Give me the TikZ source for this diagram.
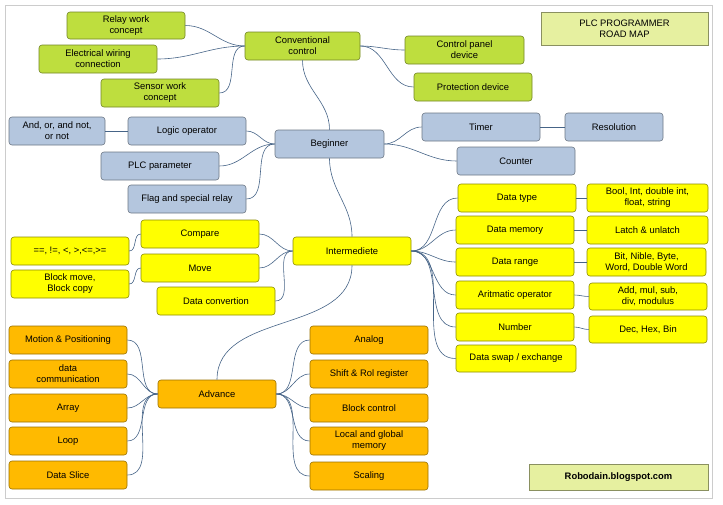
\documentclass[tikz,border=0pt]{standalone}
\usepackage{fontspec}
\setmainfont{Liberation Sans}
\definecolor{cgreen}{RGB}{190,222,62}
\definecolor{cblue}{RGB}{180,198,222}
\definecolor{cyel}{RGB}{255,255,0}
\definecolor{corg}{RGB}{255,186,0}
\definecolor{ctitle}{RGB}{230,240,160}
\definecolor{clink}{RGB}{70,100,135}
\newcommand\bx[7]{\node[box,#6,minimum width={(#4-#2)*1pt},minimum height={(#5-#3)*1pt}] (#1) at ({(#2+#4)/2},{(#3+#5)/2}) {#7};}
\begin{document}
\begin{tikzpicture}[x=1pt,y=-1pt,
  box/.style={rounded corners=3pt,draw,line width=0.6pt,inner sep=1pt,align=center,font=\fontsize{9.4}{11}\selectfont},
  gr/.style={fill=cgreen,draw=cgreen!60!black},
  bl/.style={fill=cblue,draw=cblue!60!black},
  ye/.style={fill=cyel,draw=cyel!55!black},
  or/.style={fill=corg,draw=corg!60!black},
  ti/.style={fill=ctitle,draw=ctitle!60!black,rounded corners=0pt},
  link/.style={draw=clink,line width=0.6pt}]
\useasboundingbox (0,0) rectangle (723,504);
\draw[black!20,line width=0.8pt] (5,5) rectangle (712,498);
\bx{title}{541}{12}{708}{45}{ti}{PLC PROGRAMMER\\ROAD MAP}
\bx{relay}{67}{12}{185}{39}{gr}{Relay work\\concept}
\bx{conv}{245}{32}{360}{60}{gr}{Conventional\\control}
\bx{elec}{39}{45}{157}{73}{gr}{Electrical wiring\\connection}
\bx{sens}{101}{79}{219}{107}{gr}{Sensor work\\concept}
\bx{cpd}{405}{36}{524}{64}{gr}{Control panel\\device}
\bx{prot}{414}{73}{532}{101}{gr}{Protection device}
\bx{andor}{9}{117}{105}{145}{bl}{And, or, and not,\\or not}
\bx{logic}{128}{117}{246}{145}{bl}{Logic operator}
\bx{plcp}{101}{152}{219}{180}{bl}{PLC parameter}
\bx{flag}{128}{185}{246}{213}{bl}{Flag and special relay}
\bx{beg}{275}{130}{384}{158}{bl}{Beginner}
\bx{timer}{422}{113}{540}{141}{bl}{Timer}
\bx{resol}{565}{113}{663}{141}{bl}{Resolution}
\bx{count}{457}{147}{575}{175}{bl}{Counter}
\bx{dtype}{458}{184}{576}{212}{ye}{Data type}
\bx{bool}{587}{184}{708}{212}{ye}{Bool, Int, double int,\\float, string}
\bx{dmem}{456}{216}{574}{244}{ye}{Data memory}
\bx{latch}{587}{216}{708}{244}{ye}{Latch \& unlatch}
\bx{drange}{456}{248}{574}{276}{ye}{Data range}
\bx{bit}{587}{248}{706}{276}{ye}{Bit, Nible, Byte,\\Word, Double Word}
\bx{arit}{456}{281}{574}{309}{ye}{Aritmatic operator}
\bx{add}{589}{283}{707}{310}{ye}{Add, mul, sub,\\div, modulus}
\bx{num}{456}{313}{574}{341}{ye}{Number}
\bx{dec}{589}{316}{707}{343}{ye}{Dec, Hex, Bin}
\bx{swap}{456}{345}{576}{372}{ye}{Data swap / exchange}
\bx{inter}{293}{237}{411}{265}{ye}{Intermediete}
\bx{comp}{141}{220}{259}{248}{ye}{Compare}
\bx{eq}{11}{237}{129}{265}{ye}{==, !=, <, >,<=,>=}
\bx{move}{141}{254}{259}{282}{ye}{Move}
\bx{bmove}{11}{270}{129}{298}{ye}{Block move,\\Block copy}
\bx{dconv}{157}{287}{275}{315}{ye}{Data convertion}
\bx{analog}{310}{326}{428}{354}{or}{Analog}
\bx{shift}{310}{360}{428}{388}{or}{Shift \& Rol register}
\bx{bctl}{310}{394}{428}{422}{or}{Block control}
\bx{lmem}{310}{427}{428}{455}{or}{Local and global\\memory}
\bx{scal}{310}{462}{428}{490}{or}{Scaling}
\bx{adv}{158}{380}{276}{408}{or}{Advance}
\bx{motion}{9}{326}{127}{354}{or}{Motion \& Positioning}
\bx{dcom}{9}{360}{127}{388}{or}{data\\communication}
\bx{array}{9}{394}{127}{422}{or}{Array}
\bx{loop}{9}{427}{127}{455}{or}{Loop}
\bx{slice}{9}{461}{127}{489}{or}{Data Slice}
\bx{blog}{529}{464}{708}{490}{ti}{\textbf{Robodain.blogspot.com}}
% spine
\draw[link] (conv.south) to[out=-90,in=90] (beg.north);
\draw[link] (beg.south) to[out=-90,in=90] (inter.north);
\draw[link] (inter.south) to[out=-90,in=90] (adv.north);
% conventional
\foreach \n in {relay,elec,sens} \draw[link] (conv.west) to[out=180,in=0] (\n.east);
\foreach \n in {cpd,prot} \draw[link] (conv.east) to[out=0,in=180] (\n.west);
% beginner
\foreach \n in {logic,plcp,flag} \draw[link] (beg.west) to[out=180,in=0] (\n.east);
\foreach \n in {timer,count} \draw[link] (beg.east) to[out=0,in=180] (\n.west);
\draw[link] (andor) -- (logic);
\draw[link] (timer) -- (resol);
% intermediate
\foreach \n in {dtype,dmem,drange,arit,num,swap} \draw[link] (inter.east) to[out=0,in=180] (\n.west);
\foreach \n in {comp,move,dconv} \draw[link] (inter.west) to[out=180,in=0] (\n.east);
\draw[link] (comp.west) to[out=180,in=0] (eq.east);
\draw[link] (move.west) to[out=180,in=0] (bmove.east);
\draw[link] (dtype) -- (bool);
\draw[link] (dmem) -- (latch);
\draw[link] (drange) -- (bit);
\draw[link] (arit.east) to[out=0,in=180] (add.west);
\draw[link] (num.east) to[out=0,in=180] (dec.west);
% advance
\foreach \n in {analog,shift,bctl,lmem,scal} \draw[link] (adv.east) to[out=0,in=180] (\n.west);
\foreach \n in {motion,dcom,array,loop,slice} \draw[link] (adv.west) to[out=180,in=0] (\n.east);
\end{tikzpicture}
\end{document}
